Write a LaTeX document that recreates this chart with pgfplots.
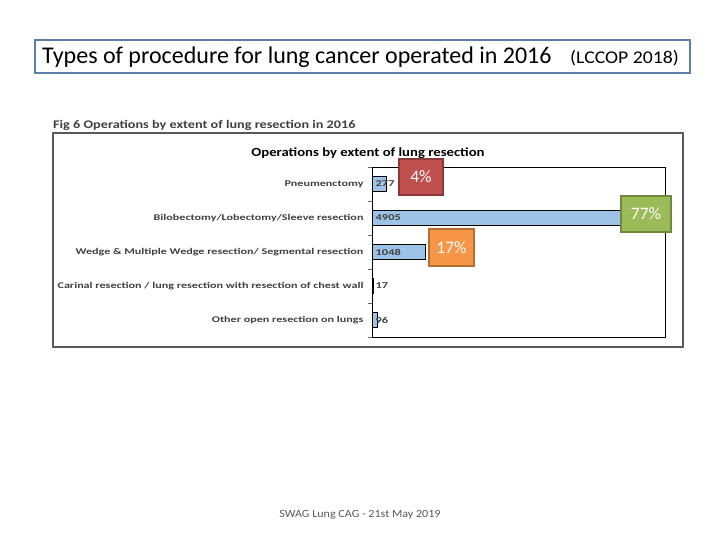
\documentclass[border=0pt]{standalone}
\usepackage{pgfplots}
\pgfplotsset{compat=1.18}
\usepackage{fontspec}
\setmainfont{Carlito}
\newfontfamily\widelabel[FakeStretch=1.38]{Carlito}
\newfontfamily\widetitle[FakeStretch=1.18]{Carlito}
\newfontfamily\widecap[FakeStretch=1.22]{Carlito}
\newfontfamily\widefoot[FakeStretch=1.1]{Carlito}
\definecolor{barblue}{HTML}{9DC3E6}
\definecolor{titleblue}{HTML}{5B7FA8}
\definecolor{boxred}{HTML}{C0504D}
\definecolor{boxredd}{HTML}{8C3836}
\definecolor{boxgreen}{HTML}{9BBB59}
\definecolor{boxgreend}{HTML}{71893F}
\definecolor{boxorange}{HTML}{F79646}
\definecolor{boxoranged}{HTML}{B66D31}
\definecolor{txtgray}{HTML}{404040}
\begin{document}
\begin{tikzpicture}[x=1bp,y=1bp]
\fill[white] (0,0) rectangle (720,540);
% slide title
\draw[titleblue, line width=2.5bp] (35,467) rectangle (690,500);
\node[anchor=base west, inner sep=0, font=\fontsize{24.1}{28}\selectfont] at (42,476)
  {Types of procedure for lung cancer operated in 2016};
\node[anchor=base west, inner sep=0, font=\widefoot\fontsize{18}{21}\selectfont] at (570,476)
  {(LCCOP 2018)};
% figure caption and chart frame
\node[anchor=base west, inner sep=0, text=txtgray, font=\widecap\bfseries\fontsize{11.7}{13}\selectfont] at (53,411)
  {Fig 6 Operations by extent of lung resection in 2016};
\draw[black!65, line width=1.2bp] (53,193) rectangle (683,407);
\node[anchor=base, inner sep=0, font=\widetitle\bfseries\fontsize{12.5}{14}\selectfont] at (368,383)
  {Operations by extent of lung resection};
\begin{axis}[
  at={(372bp,203bp)}, anchor=south west,
  width=293bp, height=170bp, scale only axis,
  xbar, bar width=15bp,
  xmin=0, xmax=5730,
  ymin=-0.5, ymax=4.5, y dir=reverse,
  xtick=\empty,
  ytick={0,...,4},
  yticklabels={Pneumenctomy, Bilobectomy/Lobectomy/Sleeve resection,
    Wedge \& Multiple Wedge resection/ Segmental resection,
    Carinal resection / lung resection with resection of chest wall,
    Other open resection on lungs},
  ytick pos=left,
  major tick length=0pt,
  minor ytick={-0.5,0.5,1.5,2.5,3.5,4.5},
  minor tick length=4bp,
  tick align=outside,
  tick style={black!60},
  yticklabel style={font=\widelabel\bfseries\fontsize{8.8}{10}\selectfont, text=txtgray, xshift=-5bp},
  axis line style={black, line width=0.8bp},
]
\addplot[fill=barblue, draw=black, line width=0.7bp, bar shift=0pt]
  coordinates {(277,0) (4905,1) (1048,2) (17,3) (96,4)};
\addplot[draw=none, fill=none, bar shift=0pt,
  nodes near coords, point meta=explicit symbolic,
  every node near coord/.style={anchor=west, inner sep=3.5bp, text=txtgray,
    font=\widelabel\bfseries\fontsize{9}{10}\selectfont}]
  coordinates {(0,0) [277] (0,1) [4905] (0,2) [1048] (0,3) [17] (0,4) [96]};
\end{axis}
% percentage call-outs
\node[fill=boxred, draw=boxredd, line width=2.5bp, minimum width=44bp, minimum height=36bp,
  text=white, font=\fontsize{17.5}{20}\selectfont] at (421,363) {4\%};
\node[fill=boxgreen, draw=boxgreend, line width=2.5bp, minimum width=50bp, minimum height=36bp,
  text=white, font=\fontsize{17.5}{20}\selectfont] at (646,326) {77\%};
\node[fill=boxorange, draw=boxoranged, line width=2.5bp, minimum width=45bp, minimum height=37bp,
  text=white, font=\fontsize{17.5}{20}\selectfont] at (451.5,292.5) {17\%};
% footer
\node[text=black!65, font=\widefoot\fontsize{11}{13}\selectfont] at (360,25) {SWAG Lung CAG - 21st May 2019};
\end{tikzpicture}
\end{document}
